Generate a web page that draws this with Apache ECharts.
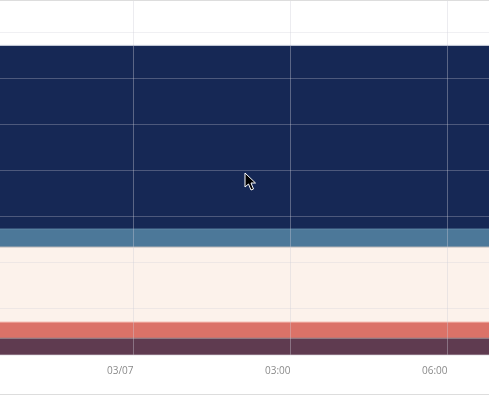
<!DOCTYPE html>
<html>
<head>
<meta charset="utf-8">
<script src="https://cdn.jsdelivr.net/npm/echarts@6/dist/echarts.min.js"></script>
<style>
html,body{margin:0;padding:0;background:#fff;}
#chart{position:absolute;left:0;top:0;width:489px;height:395px;}
#frame{position:absolute;left:0;top:0;width:489px;height:395px;box-sizing:border-box;border-top:1px solid #ddd;border-bottom:1px solid #ddd;pointer-events:none;}
</style>
</head>
<body>
<div id="chart"></div>
<div id="frame"></div>
<script>
// one category every 3 hours, the first and last sit outside the window
var categories = ['21:00','03/07','03:00','06:00','09:00'];
var plum = [36,36,36,36,36];
var red = [35,35,35,35,35];
var cream = [163,163,163,163,163];
var blue = [39,39,39,39,39];
var navy = [399,399,399,399,399];

var names = ['plum','red','cream','blue','navy'];
var values = [plum,red,cream,blue,navy];
var colors = ['#5f3b50','#db7268','#fcf2eb','#4c7899','#162855'];
var edges = ['#8d7f8a','#f5b5ac','#b9b6b8','#5f87a6','#dfe3ec'];

var Series = [];
for(var i=0;i<names.length;i++){
	Series.push({
		name:names[i],
		type:'line',
		stack:'all',
		showSymbol:false,
		silent:true,
		z:2,
		lineStyle:{color:edges[i],width:1},
		areaStyle:{color:colors[i],opacity:1},
		data:values[i]
	});
}

var charts = echarts.init(document.getElementById('chart'));
var option = {
	animation:false,
	// the plot is larger than the window, its top and sides are cut off
	grid:{left:-23.5,right:-115.5,top:-13.66,height:368.46,outerBoundsMode:'none'},
	xAxis:{
		type:'category',
		data:categories,
		boundaryGap:false,
		z:5,
		axisLine:{show:false},
		axisTick:{show:false},
		axisLabel:{
			color:'#8a8a8a',
			fontFamily:'Open Sans',
			fontSize:10,
			align:'right',
			margin:11,
			interval:0
		},
		splitLine:{show:true,interval:0,lineStyle:{color:'rgba(205,205,215,0.38)',width:1}}
	},
	yAxis:{
		type:'value',
		min:0,
		max:800,
		interval:100,
		z:5,
		axisLine:{show:false},
		axisTick:{show:false},
		axisLabel:{show:false},
		splitLine:{show:true,lineStyle:{color:'rgba(205,205,215,0.3)',width:1}}
	},
	series:Series,
	// mouse pointer caught in the screenshot
	graphic:[{
		type:'polygon',
		z:100,
		shape:{points:[[245,173],[245,187],[248.5,184],[251,190],[253.5,189],[251,183],[255.5,183]]},
		style:{fill:'#000',stroke:'#fff',lineWidth:1}
	}]
};
charts.setOption(option);
</script>
</body>
</html>
